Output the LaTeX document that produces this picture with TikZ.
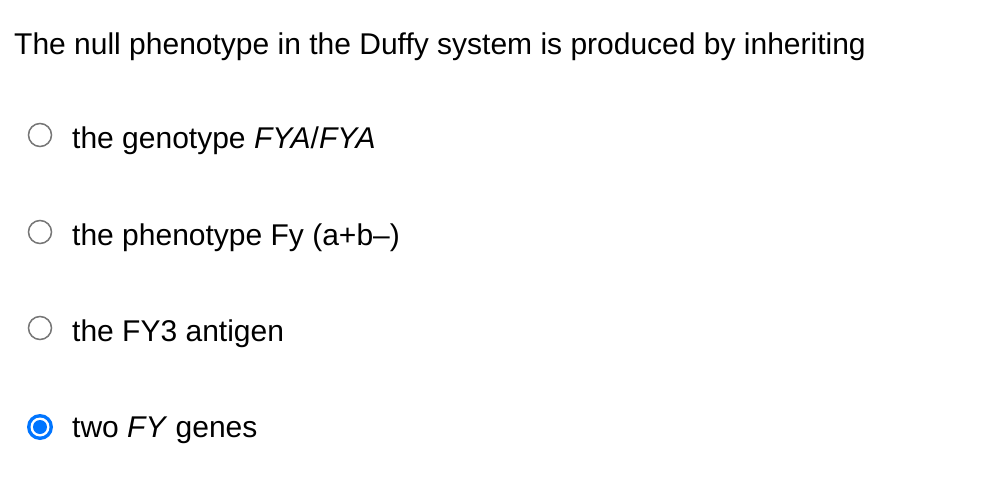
\documentclass[tikz,border=0pt]{standalone}
\usepackage{fontspec}
\setmainfont{Liberation Sans}
\definecolor{rblue}{HTML}{0075FF}
\definecolor{rgray}{HTML}{767676}
\tikzset{txt/.style={anchor=base west,inner sep=0pt,font=\fontsize{30}{36}\selectfont,text=black},
radio/.style={circle,draw=rgray,line width=1.5pt,minimum size=23pt,inner sep=0pt}}
\begin{document}
\begin{tikzpicture}[x=1pt,y=-1pt]
\useasboundingbox[fill=white] (0,0) rectangle (999,495);
\node[txt] (q) at (14,55) {The null phenotype in the Duffy system is produced by inheriting};
\node[radio] (r1) at (40,135) {};
\node[txt] (t1) at (72,148) {the genotype \textit{FYA}/\textit{FYA}};
\node[radio] (r2) at (40,232) {};
\node[txt] (t2) at (72,245) {the phenotype Fy (a+b--)};
\node[radio] (r3) at (40,328) {};
\node[txt] (t3) at (72,341) {the FY3 antigen};
\node[circle,fill=rblue,minimum size=26pt,inner sep=0pt] (r4) at (40,427) {};
\node[circle,fill=white,minimum size=19pt,inner sep=0pt] at (r4) {};
\node[circle,fill=rblue,minimum size=14pt,inner sep=0pt] at (r4) {};
\node[txt] (t4) at (72,437) {two \textit{FY} genes};
\end{tikzpicture}
\end{document}
